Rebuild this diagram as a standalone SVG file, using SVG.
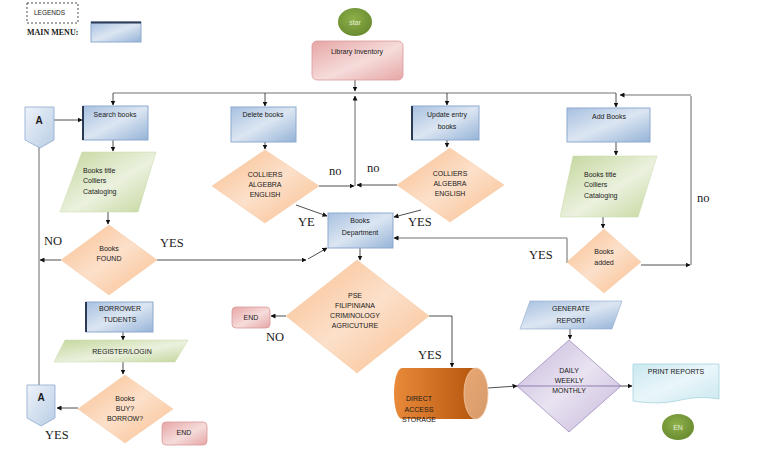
<svg xmlns="http://www.w3.org/2000/svg" width="768" height="466" viewBox="0 0 768 466">
<style>
.t{font-family:"Liberation Sans",Arial,sans-serif;font-size:7px;fill:#1a1a1a;text-anchor:middle}
.tl{font-family:"Liberation Sans",Arial,sans-serif;font-size:7px;fill:#1a1a1a}
.lab{font-family:"Liberation Serif","Times New Roman",serif;font-size:12.5px;fill:#1a1a1a}
.box{fill:url(#gBlue);stroke:#8EA9CF;stroke-width:1}
.dia{fill:url(#gOrange);stroke:#F4C9A3;stroke-width:0.5}
.par{fill:url(#gGreen);stroke:#C7D8A8;stroke-width:0.5}
.c{fill:none;stroke:#222;stroke-width:0.8;marker-end:url(#ar)}
.g{fill:none;stroke:#A0A0A0;stroke-width:1.6}
.ga{fill:none;stroke:#A0A0A0;stroke-width:1.6;marker-end:url(#ar)}
.edge{stroke:#2b3a55;stroke-width:2}
</style>
<defs>
<marker id="ar" viewBox="0 0 10 10" refX="9" refY="5" markerWidth="5" markerHeight="5" orient="auto" markerUnits="userSpaceOnUse"><path d="M0,0 L10,5 L0,10 z" fill="#111"/></marker>
<linearGradient id="gBlue" x1="0" y1="0" x2="1" y2="1"><stop offset="0" stop-color="#A7C0E0"/><stop offset="0.5" stop-color="#DCE6F2"/><stop offset="1" stop-color="#95B3D7"/></linearGradient>
<linearGradient id="gOrange" x1="0" y1="0" x2="1" y2="1"><stop offset="0" stop-color="#F9BE8E"/><stop offset="0.5" stop-color="#FCE0CA"/><stop offset="1" stop-color="#F9BE8E"/></linearGradient>
<linearGradient id="gGreen" x1="0" y1="0" x2="1" y2="1"><stop offset="0" stop-color="#C3D69B"/><stop offset="0.55" stop-color="#EBF1DE"/><stop offset="1" stop-color="#C3D69B"/></linearGradient>
<linearGradient id="gPink" x1="0" y1="0" x2="1" y2="1"><stop offset="0" stop-color="#E6A6A5"/><stop offset="0.55" stop-color="#F5DCDB"/><stop offset="1" stop-color="#E6A6A5"/></linearGradient>
<linearGradient id="gPurple" x1="0" y1="0" x2="1" y2="1"><stop offset="0" stop-color="#C5B6DA"/><stop offset="0.5" stop-color="#E9E3F1"/><stop offset="1" stop-color="#C5B6DA"/></linearGradient>
<linearGradient id="gCyl" x1="0" y1="0" x2="1" y2="0"><stop offset="0" stop-color="#E98A3A"/><stop offset="1" stop-color="#B5560E"/></linearGradient>
<linearGradient id="gCylEnd" x1="0" y1="0" x2="1" y2="1"><stop offset="0" stop-color="#E9A874"/><stop offset="1" stop-color="#D59A6A"/></linearGradient>
<linearGradient id="gDoc" x1="0" y1="0" x2="1" y2="1"><stop offset="0" stop-color="#C9E8F0"/><stop offset="0.5" stop-color="#EAF6F9"/><stop offset="1" stop-color="#C9E8F0"/></linearGradient>
<radialGradient id="gGreenO" cx="0.45" cy="0.4" r="0.7"><stop offset="0" stop-color="#8DB04A"/><stop offset="1" stop-color="#66862C"/></radialGradient>
<linearGradient id="gA" x1="0" y1="0" x2="1" y2="1"><stop offset="0" stop-color="#EEF3FA"/><stop offset="1" stop-color="#B9CDE5"/></linearGradient>
</defs>

<g id="legend">
<rect x="27" y="3" width="51" height="20" fill="#ffffff" stroke="#222222" stroke-width="0.8" stroke-dasharray="2,2"/>
<text x="34" y="15" fill="#1a1a1a" style="font-family:'Liberation Sans',Arial,sans-serif;font-size:6.5px">LEGENDS</text>
<text x="27" y="35" fill="#1a1a1a" style="font-family:'Liberation Serif',serif;font-size:8px;font-weight:bold">MAIN MENU:</text>
<rect x="91" y="22" width="50" height="20" class="box"/>
<line x1="91" y1="22.5" x2="141" y2="22.5" class="edge"/>
</g>

<g id="connectors">
<path class="c" d="M355,80 V91"/>
<path class="g" d="M113,93 H616"/>
<path class="c" d="M113,93 V105"/>
<path class="c" d="M265,93 V106"/>
<path class="c" d="M447,93 V105"/>
<path class="c" d="M616,93 V107"/>
<path class="ga" d="M355,186 V96"/>
<path class="c" d="M54,120 H82"/>
<path class="c" d="M113,140 V151"/>
<path class="c" d="M108,212 V224"/>
<path class="g" d="M39,147 V385"/>
<path class="c" d="M61,260 H40"/>
<path class="c" d="M157,260 H306"/>
<path class="c" d="M308,259 L327,248"/>
<path class="c" d="M265,142 V149"/>
<path class="c" d="M319,186 H354"/>
<path class="c" d="M447,140 V147"/>
<path class="c" d="M397,185 H357"/>
<path class="c" d="M296,205 L327,216"/>
<path class="c" d="M421,210 L394,217"/>
<path class="c" d="M616,142 V155"/>
<path class="c" d="M603,217 V228"/>
<path class="g" d="M567,263 V238"/>
<path class="ga" d="M567,238 H394"/>
<path class="c" d="M641,265 H690"/>
<path class="g" d="M691,265 V96"/>
<path class="ga" d="M691,95 H620"/>
<path class="c" d="M360,248 V260"/>
<path class="c" d="M286,316 H271"/>
<path class="c" d="M429,316 H452 V367"/>
<path class="c" d="M488,388 L517,386"/>
<path class="c" d="M570,329 V339"/>
<path class="c" d="M621,386 H632"/>
<path class="c" d="M123,332 V340"/>
<path class="c" d="M123,362 V374"/>
<path class="c" d="M78,408 H57"/>
</g>

<g id="labels">
<text x="329" y="175" class="lab">no</text>
<text x="367" y="172" class="lab">no</text>
<text x="298" y="226" class="lab">YE</text>
<text x="408" y="226" class="lab">YES</text>
<text x="44" y="245" class="lab">NO</text>
<text x="160" y="247" class="lab">YES</text>
<text x="529" y="259" class="lab">YES</text>
<text x="697" y="202" class="lab">no</text>
<text x="266" y="341" class="lab">NO</text>
<text x="418" y="359" class="lab">YES</text>
<text x="45" y="439" class="lab">YES</text>
</g>

<g id="start">
<ellipse cx="355" cy="22" rx="17" ry="14" fill="url(#gGreenO)"/>
<text x="355" y="24.5" class="t" style="fill:#e8efd8">star</text>
</g>

<g id="library-inventory">
<rect x="312" y="41" width="91" height="39" rx="5" fill="url(#gPink)" stroke="#DB9B99" stroke-width="0.8"/>
<text x="357" y="54" class="t">Library Inventory</text>
</g>

<g id="search-books">
<rect x="83" y="106" width="65" height="34" class="box"/>
<line x1="83" y1="106" x2="83" y2="140" class="edge"/>
<text x="115" y="117" class="t">Search books</text>
</g>

<g id="delete-books">
<rect x="231" y="107" width="65" height="35" class="box"/>
<text x="263" y="117" class="t">Delete books</text>
</g>

<g id="update-entry">
<rect x="412" y="106" width="67" height="34" class="box"/>
<line x1="412" y1="106" x2="412" y2="140" class="edge"/>
<text x="447" y="117" class="t">Update entry</text>
<text x="447" y="129" class="t">books</text>
</g>

<g id="add-books">
<rect x="567" y="108" width="83" height="34" class="box"/>
<text x="609" y="119" class="t">Add Books</text>
</g>

<g id="connector-a-top">
<path d="M25,107 H54 V140 L40,148 L25,140 Z" fill="url(#gA)" stroke="#8EA9CF" stroke-width="0.8"/>
<text x="39" y="124" style="font-family:'Liberation Sans',sans-serif;font-size:10px;font-weight:bold;fill:#1a1a1a;text-anchor:middle">A</text>
</g>

<g id="books-title-left">
<polygon points="82,152 156,152 138,212 60,212" class="par"/>
<text x="83" y="173" class="tl">Books title</text>
<text x="83" y="183" class="tl">Colliers</text>
<text x="83" y="194" class="tl">Cataloging</text>
</g>

<g id="books-found">
<polygon points="109,225 157,260 109,295 61,260" class="dia"/>
<text x="109" y="251" class="t">Books</text>
<text x="109" y="261" class="t">FOUND</text>
</g>

<g id="delete-check">
<polygon points="265,150 319,186 265,223 212,186" class="dia"/>
<text x="265" y="177" class="t">COLLIERS</text>
<text x="265" y="187" class="t">ALGEBRA</text>
<text x="265" y="197" class="t">ENGLISH</text>
</g>

<g id="update-check">
<polygon points="450,148 504,185 450,222 397,185" class="dia"/>
<text x="450" y="176" class="t">COLLIERS</text>
<text x="450" y="186" class="t">ALGEBRA</text>
<text x="450" y="196" class="t">ENGLISH</text>
</g>

<g id="books-department">
<rect x="328" y="213" width="65" height="35" class="box"/>
<text x="360" y="223" class="t">Books</text>
<text x="360" y="235" class="t">Department</text>
</g>

<g id="books-title-right">
<polygon points="573,156 657,156 638,217 560,217" class="par"/>
<text x="584" y="177" class="tl">Books title</text>
<text x="584" y="187" class="tl">Colliers</text>
<text x="584" y="198" class="tl">Cataloging</text>
</g>

<g id="books-added">
<polygon points="604,229 641,262 604,293 567,262" class="dia"/>
<text x="604" y="254" class="t">Books</text>
<text x="604" y="265" class="t">added</text>
</g>

<g id="category-check">
<polygon points="357,260 429,316 357,373 286,316" class="dia"/>
<text x="355" y="298" class="t">PSE</text>
<text x="355" y="308" class="t">FILIPINIANA</text>
<text x="355" y="318" class="t">CRIMINOLOGY</text>
<text x="355" y="328" class="t">AGRICUTURE</text>
</g>

<g id="end-middle">
<rect x="232" y="307" width="38" height="21" rx="4" fill="url(#gPink)" stroke="#DB9B99" stroke-width="0.8"/>
<text x="251" y="320" class="t">END</text>
</g>

<g id="direct-access-storage">
<path d="M402,368 H476 V419 H402 A8,25.5 0 0 1 402,368 Z" fill="url(#gCyl)"/>
<ellipse cx="476" cy="393.5" rx="12" ry="25.5" fill="url(#gCylEnd)" stroke="#F1C9A6" stroke-width="0.8"/>
<text x="419" y="401" class="t">DIRECT</text>
<text x="419" y="412" class="t">ACCESS</text>
<text x="419" y="422" class="t">STORAGE</text>
</g>

<g id="generate-report">
<polygon points="530,301 622,301 612,329 520,329" fill="url(#gBlue)" stroke="#8EA9CF" stroke-width="0.6"/>
<text x="571" y="311" class="t">GENERATE</text>
<text x="571" y="323" class="t">REPORT</text>
</g>

<g id="report-period">
<polygon points="569,340 621,386 569,432 517,386" fill="url(#gPurple)" stroke="#9E8DBD" stroke-width="0.8"/>
<line x1="517" y1="386" x2="621" y2="386" stroke="#7F67A3" stroke-width="0.8"/>
<text x="569" y="373" class="t">DAILY</text>
<text x="569" y="383" class="t">WEEKLY</text>
<text x="569" y="393" class="t">MONTHLY</text>
</g>

<g id="print-reports">
<path d="M633,364 H719 V399 C700,396 690,398 676,401 C660,404 648,403 633,401 Z" fill="url(#gDoc)" stroke="#A6D4E0" stroke-width="0.8"/>
<text x="676" y="374" class="t">PRINT REPORTS</text>
</g>

<g id="end-right">
<ellipse cx="678" cy="427" rx="16" ry="13" fill="url(#gGreenO)"/>
<text x="678" y="429.5" class="t" style="fill:#e8efd8">EN</text>
</g>

<g id="borrower">
<rect x="86" y="302" width="67" height="30" class="box"/>
<line x1="86" y1="302" x2="86" y2="332" class="edge"/>
<text x="120" y="311" class="t">BORROWER</text>
<text x="120" y="322" class="t">TUDENTS</text>
</g>

<g id="register-login">
<polygon points="65,340 188,340 175,362 54,362" class="par"/>
<text x="122" y="354" class="t">REGISTER/LOGIN</text>
</g>

<g id="buy-borrow">
<polygon points="125,375 173,409 125,443 78,409" class="dia"/>
<text x="125" y="401" class="t">Books</text>
<text x="125" y="411" class="t">BUY?</text>
<text x="125" y="421" class="t">BORROW?</text>
</g>

<g id="connector-a-bottom">
<path d="M27,385 H55 V418 L41,426 L27,418 Z" fill="url(#gA)" stroke="#8EA9CF" stroke-width="0.8"/>
<text x="41" y="401" style="font-family:'Liberation Sans',sans-serif;font-size:10px;font-weight:bold;fill:#1a1a1a;text-anchor:middle">A</text>
</g>

<g id="end-bottom">
<rect x="162" y="422" width="45" height="23" rx="4" fill="url(#gPink)" stroke="#DB9B99" stroke-width="0.8"/>
<text x="184" y="435" class="t">END</text>
</g>
</svg>
